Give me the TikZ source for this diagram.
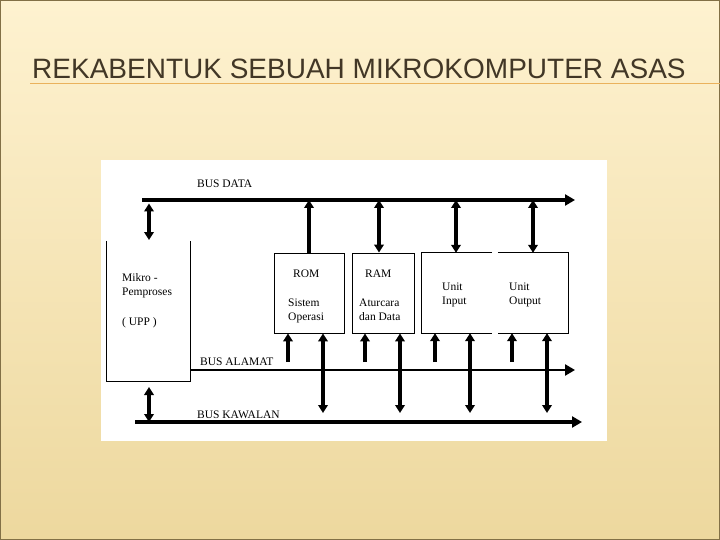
\documentclass[tikz,border=0pt]{standalone}
\usepackage{fontspec}
\setmainfont{Liberation Serif}
\newfontfamily\titlefont{Liberation Sans}
\usetikzlibrary{arrows.meta}
\definecolor{bgtop}{RGB}{254,242,208}
\definecolor{bgbot}{RGB}{237,216,158}
\definecolor{titlecol}{RGB}{66,55,38}
\definecolor{rulecol}{RGB}{234,178,92}
\definecolor{framecol}{RGB}{130,112,70}
\tikzset{
  unitbox/.style={draw=black, line width=0.9pt, minimum width=70pt, minimum height=80pt, inner sep=0pt},
  lbl/.style={anchor=base west, inner sep=0pt, font=\fontsize{11.5}{13}\selectfont},
  bus/.style={line width=3.6pt, -{Triangle[length=10pt,width=11pt]}},
  dbl/.style={line width=3.2pt, {Triangle[length=8pt,width=9.5pt]}-{Triangle[length=8pt,width=9.5pt]}},
  upa/.style={line width=3.2pt, -{Triangle[length=8pt,width=9.5pt]}}
}
\begin{document}
\begin{tikzpicture}[x=1pt,y=-1pt]
\useasboundingbox (0,0) rectangle (720,540);
% slide background
\shade[top color=bgtop, bottom color=bgbot] (0,0) rectangle (720,540);
\draw[framecol, line width=1.2pt] (0.6,0.6) rectangle (719.4,539.4);
% title
\node[anchor=base west, inner sep=0pt, text=titlecol, font=\titlefont\fontsize{28}{32}\selectfont] (title) at (32,78.5) {REKABENTUK SEBUAH MIKROKOMPUTER ASAS};
\draw[rulecol, line width=0.9pt] (30,83.5) -- (720,83.5);
% white panel
\fill[white] (101,160) rectangle (607,441);
% bus coordinates
\coordinate (bdL) at (142,200);
\coordinate (bdR) at (575,200);
\coordinate (baL) at (191,370);
\coordinate (baR) at (575,370);
\coordinate (bkL) at (135,422);
\coordinate (bkR) at (582,422);
% CPU box (open top)
\node[minimum width=84pt, minimum height=140pt, inner sep=0pt] (upp) at (148.5,311) {};
\draw[line width=0.9pt] (upp.north west) -- (upp.south west) -- (upp.south east) -- (upp.north east);
\node[lbl] (t1) at (122,281) {Mikro -};
\node[lbl] (t2) at (122,295) {Pemproses};
\node[lbl] (t3) at (122,325) {( UPP )};
% memory / IO boxes
\node[unitbox] (rom) at (309,293) {};
\node[unitbox, minimum width=62pt] (ram) at (383,293) {};
\node[minimum width=70pt, minimum height=80pt, inner sep=0pt] (inp) at (457,293) {};
\node[minimum width=70pt, minimum height=80pt, inner sep=0pt] (outp) at (533,293) {};
\draw[line width=0.9pt] (inp.north east) -- (inp.north west) -- (inp.south west) -- (inp.south east);
\draw[line width=0.9pt] (outp.north west) -- (outp.north east) -- (outp.south east) -- (outp.south west);
\node[lbl] (romt) at (293,277) {ROM};
\node[lbl] (romt2) at (288,306) {Sistem};
\node[lbl] (romt3) at (288,320) {Operasi};
\node[lbl] (ramt) at (365,277) {RAM};
\node[lbl] (ramt2) at (359,306) {Aturcara};
\node[lbl] (ramt3) at (359,320) {dan Data};
\node[lbl] (int1) at (442,290) {Unit};
\node[lbl] (int2) at (442,304) {Input};
\node[lbl] (outt1) at (509,290) {Unit};
\node[lbl] (outt2) at (509,304) {Output};
% bus labels
\node[lbl] (bdlab) at (197,188) {BUS DATA};
\node[lbl] (balab) at (200,365) {BUS ALAMAT};
\node[lbl] (bklab) at (197,418.5) {BUS KAWALAN};
% buses
\draw[bus] (bdL) -- (bdR);
\draw[bus, line width=2.9pt] (baL) -- (baR);
\draw[bus, line width=3.3pt] (bkL) -- (bkR);
% CPU arrows
\coordinate (u1) at (149,203.5);
\coordinate (u2) at (149,240);
\draw[dbl] (u1) -- (u2);
\coordinate (u3) at (149,387);
\draw[dbl] (u3) -- (u3 |- bkL);
% data bus arrows
\draw[upa] (rom.north) -- (rom.north |- bdL);
\draw[dbl] ([xshift=-4pt]ram.north |- bdL) -- ([xshift=-4pt]ram.north);
\draw[dbl] ([xshift=-1pt]inp.north |- bdL) -- ([xshift=-1pt]inp.north);
\draw[dbl] (outp.north |- bdL) -- (outp.north);
% address bus arrows (up into boxes)
\coordinate (a1) at (288,362);
\coordinate (a2) at (365,362);
\coordinate (a3) at (435,362);
\coordinate (a4) at (512,362);
\draw[upa] (a1) -- (a1 |- rom.south);
\draw[upa] (a2) -- (a2 |- ram.south);
\draw[upa] (a3) -- (a3 |- inp.south);
\draw[upa] (a4) -- (a4 |- outp.south);
% control bus arrows
\coordinate (k1) at (323,413);
\coordinate (k2) at (400,413);
\coordinate (k3) at (470,413);
\coordinate (k4) at (547,413);
\draw[dbl] (k1 |- rom.south) -- (k1);
\draw[dbl] (k2 |- ram.south) -- (k2);
\draw[dbl] (k3 |- inp.south) -- (k3);
\draw[dbl] (k4 |- outp.south) -- (k4);
\end{tikzpicture}
\end{document}
